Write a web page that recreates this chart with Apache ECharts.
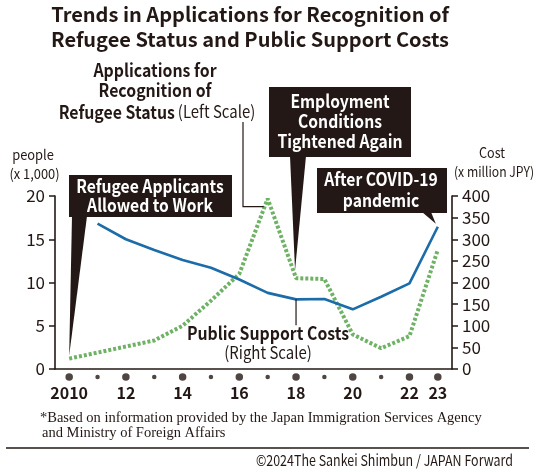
<!DOCTYPE html>
<html><head><meta charset="utf-8">
<script src="https://cdn.jsdelivr.net/npm/echarts@6/dist/echarts.min.js"></script>
<style>html,body{margin:0;padding:0;background:#fff}#c{width:540px;height:472px}</style>
</head><body><div id="c"></div>
<script>
const years = ['2010','2011','2012','2013','2014','2015','2016','2017','2018','2019','2020','2021','2022','2023'];
const yearLabels = ['2010','','12','','14','','16','','18','','20','','22','23'];
// Applications for recognition of refugee status (x 1,000 people, left scale)
const applications = [1.2, 1.9, 2.6, 3.3, 5.0, 7.9, 11.0, 19.7, 10.5, 10.4, 4.0, 2.4, 3.8, 13.8];
// Public support costs (x million JPY, right scale)
const supportCosts = [null, 336, 300, 275, 252, 234, 207, 176, 161, 162, 138, 167, 198, 329];
const leftTicks = [0, 5, 10, 15, 20];
const rightTicks = [0, 50, 100, 150, 200, 250, 300, 350, 400];

const INK = '#231815';
const BLUE = '#1b6ca8';
const GREEN = '#6fb165';
const SANS = '"Noto Sans CJK JP", "Noto Sans", sans-serif';

const chart = echarts.init(document.getElementById('c'));
chart.setOption({
  animation: false,
  backgroundColor: '#fff',
  grid: { left: 55, right: 88, top: 196, bottom: 103, containLabel: false },
  xAxis: {
    type: 'category', data: years, boundaryGap: true,
    axisLine: { lineStyle: { color: INK, width: 1.6 } },
    axisTick: { show: false },
    axisLabel: {
      interval: 0, margin: 16, color: INK, fontFamily: SANS, fontWeight: 'bold', fontSize: 16,
      formatter: (v, i) => yearLabels[i]
    },
    splitLine: { show: false }
  },
  yAxis: [
    {
      type: 'value', min: leftTicks[0], max: leftTicks[leftTicks.length - 1], interval: 5,
      axisLine: { show: true, lineStyle: { color: INK, width: 1.6 } },
      axisTick: { show: true, length: 6, lineStyle: { color: INK, width: 1.5 } },
      axisLabel: { color: INK, fontFamily: SANS, fontSize: 17, margin: 10 },
      splitLine: { show: false }
    },
    {
      type: 'value', min: rightTicks[0], max: rightTicks[rightTicks.length - 1], interval: 50,
      position: 'right',
      axisLine: { show: true, lineStyle: { color: INK, width: 1.6 } },
      axisTick: { show: true, length: 6, lineStyle: { color: INK, width: 1.5 } },
      axisLabel: { color: INK, fontFamily: SANS, fontSize: 17, margin: 10 },
      splitLine: { show: false }
    }
  ],
  series: [
    {
      name: 'Applications', type: 'line', yAxisIndex: 0, data: applications,
      symbol: 'none', z: 3,
      lineStyle: { color: GREEN, width: 4, type: [3, 2] }
    },
    {
      name: 'Costs', type: 'line', yAxisIndex: 1, data: supportCosts,
      symbol: 'none', z: 4, connectNulls: false,
      lineStyle: { color: BLUE, width: 2.6 }
    },
    {
      name: 'dots', type: 'scatter', yAxisIndex: 0, clip: false, silent: true,
      data: years.map((y, i) => [i, 0]),
      symbolOffset: [0, 8],
      symbolSize: (v, p) => (yearLabels[p.dataIndex] ? 7.5 : 4.5),
      itemStyle: { color: INK }
    }
  ]
});

function px(seriesIndex, i) {
  const s = seriesIndex === 0 ? applications : supportCosts;
  return chart.convertToPixel({ seriesIndex: seriesIndex }, [i, s[i]]);
}
const pA2010 = px(0, 0);
const pA2017 = px(0, 7);
const pA2018 = px(0, 8);
const pC2018 = px(1, 8);
const pC2023 = px(1, 13);

function txt(text, x, y, font, opts) {
  return Object.assign({
    type: 'text', x: x, y: y, z: 8,
    style: { text: text, fill: INK, font: font, textAlign: 'center', textVerticalAlign: 'middle' }
  }, opts || {});
}
function boxTxt(text, x, y) {
  return txt(text, x, y, 'bold 18px ' + SANS, { scaleX: 0.87, z: 9, style: { text: text, fill: '#fff', font: 'bold 18px ' + SANS, textAlign: 'center', textVerticalAlign: 'middle' } });
}

chart.setOption({
  graphic: [
    // Title
    txt('Trends in Applications for Recognition of', 250, 14, 'bold 20px ' + SANS),
    txt('Refugee Status and Public Support Costs', 250, 39, 'bold 20px ' + SANS),
    // Left axis name
    txt('people', 33, 155, '14px ' + SANS, { scaleX: 0.92 }),
    txt('(x 1,000)', 34.5, 174, '14px ' + SANS, { scaleX: 0.92 }),
    // Right axis name
    txt('Cost', 492, 153, '14px ' + SANS, { scaleX: 0.9 }),
    txt('(x million JPY)', 494, 172, '14px ' + SANS, { scaleX: 0.87 }),

    // Applications label
    txt('Applications for', 155, 70, 'bold 18px ' + SANS, { scaleX: 0.88 }),
    txt('Recognition of', 155, 90, 'bold 18px ' + SANS, { scaleX: 0.88 }),
    { type: 'text', x: 157, y: 112, z: 8, scaleX: 0.88, style: {
        text: '{b|Refugee Status} {l|(Left Scale)}', textAlign: 'center', textVerticalAlign: 'middle',
        rich: { b: { fill: INK, font: 'bold 18px ' + SANS }, l: { fill: INK, font: '17px ' + SANS } } } },
    { type: 'polyline', z: 5, shape: { points: [[243, 122], [243, pA2017[1] + 8], [pA2017[0] - 4, pA2017[1] + 8]] },
      style: { stroke: INK, lineWidth: 1.2, fill: null } },

    // Public support costs label
    { type: 'line', z: 5, shape: { x1: pC2018[0], y1: pC2018[1], x2: pC2018[0], y2: pC2018[1] + 26 },
      style: { stroke: INK, lineWidth: 1.2 } },
    txt('Public Support Costs', 268, 333, 'bold 18px ' + SANS, { scaleX: 0.88 }),
    txt('(Right Scale)', 268, 353, '17px ' + SANS, { scaleX: 0.88 }),

    // Refugee Applicants Allowed to Work box
    { type: 'polygon', z: 7, shape: { points: [[72, 216], [87, 216], [pA2010[0], pA2010[1] - 3]] }, style: { fill: INK } },
    { type: 'rect', z: 7, shape: { x: 69, y: 175, width: 163, height: 42 }, style: { fill: INK } },
    boxTxt('Refugee Applicants', 150, 186.5),
    boxTxt('Allowed to Work', 150, 205.5),

    // Employment conditions box
    { type: 'polygon', z: 7, shape: { points: [[290, 156], [306, 156], [pA2018[0] - 1, pA2018[1] - 8]] }, style: { fill: INK } },
    { type: 'rect', z: 7, shape: { x: 269, y: 87, width: 142, height: 70 }, style: { fill: INK } },
    boxTxt('Employment', 340, 101.5),
    boxTxt('Conditions', 340, 121.5),
    boxTxt('Tightened Again', 340, 141.5),

    // After COVID box
    { type: 'polygon', z: 7, shape: { points: [[422, 212], [431, 212], [pC2023[0] - 2, pC2023[1] - 3]] }, style: { fill: INK } },
    { type: 'rect', z: 7, shape: { x: 317, y: 168, width: 130, height: 45 }, style: { fill: INK } },
    boxTxt('After COVID-19', 381, 179.5),
    boxTxt('pandemic', 381, 200),

    // Footnote
    { type: 'text', x: 40, y: 418, style: { text: '*Based on information provided by the Japan Immigration Services Agency', fill: INK, font: '14.5px "Liberation Serif", serif', textVerticalAlign: 'middle' } },
    { type: 'text', x: 42, y: 433, style: { text: 'and Ministry of Foreign Affairs', fill: INK, font: '14.5px "Liberation Serif", serif', textVerticalAlign: 'middle' } },
    { type: 'line', shape: { x1: 6, y1: 448, x2: 529, y2: 448 }, style: { stroke: INK, lineWidth: 1.5 } },
    { type: 'text', x: 513, y: 460, scaleX: 0.83, style: { text: '©2024The Sankei Shimbun / JAPAN Forward', fill: INK, font: '15px ' + SANS, textAlign: 'right', textVerticalAlign: 'middle' } }
  ]
});
</script>
</body></html>
